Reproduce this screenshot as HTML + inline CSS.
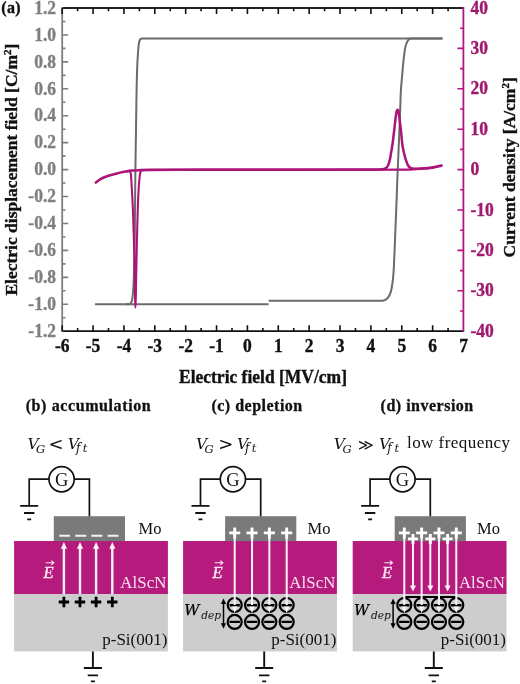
<!DOCTYPE html>
<html><head><meta charset="utf-8"><style>
html,body{margin:0;padding:0;background:#fff;}
body{width:520px;height:684px;overflow:hidden;}
svg{display:block;}
</style></head><body>
<svg width="520" height="684" viewBox="0 0 520 684" font-family='"Liberation Serif", "Times New Roman", serif'>
<rect width="520" height="684" fill="#fff"/>
<g fill="none" stroke="#6b6b6b" stroke-width="2" stroke-linejoin="round" stroke-linecap="butt">
<path d="M95,304.2 L268.6,304.2"/>
<path d="M268.60,300.80 C305.73,300.80 342.88,300.99 380.00,300.80 C381.51,300.79 383.12,300.71 384.50,300.20 C385.65,299.77 386.75,298.91 387.60,298.00 C388.52,297.01 389.28,295.76 389.80,294.50 C390.65,292.43 391.32,290.22 391.70,288.00 C392.55,283.05 393.12,278.02 393.50,273.00 C394.08,265.35 394.26,257.67 394.60,250.00 C394.89,243.33 395.13,236.67 395.40,230.00 C395.80,220.00 396.22,210.00 396.60,200.00 C396.92,191.67 397.17,183.33 397.50,175.00 C397.97,163.33 398.52,151.67 399.00,140.00 C399.42,130.00 399.82,120.00 400.20,110.00 C400.45,103.33 400.53,96.66 400.90,90.00 C401.16,85.39 401.70,80.80 402.10,76.20 C402.43,72.33 402.72,68.46 403.10,64.60 C403.48,60.73 403.88,56.85 404.40,53.00 C404.72,50.65 405.00,48.28 405.60,46.00 C406.03,44.38 406.68,42.75 407.50,41.30 C408.08,40.28 408.88,39.20 409.80,38.60 C410.38,38.23 411.27,38.47 412.00,38.40 L442.5,38.4"/>
<path d="M442.5,38.4 L141.5,38.4  C140.93,38.93 140.14,39.33 139.80,40.00 C139.24,41.13 138.98,42.51 138.80,43.80 C138.38,46.84 138.22,49.93 138.00,53.00 C137.72,56.86 137.45,60.73 137.30,64.60 C136.98,73.06 136.77,81.53 136.60,90.00 C136.33,103.33 136.20,116.67 136.00,130.00 C135.80,143.33 135.57,156.67 135.40,170.00 C135.23,183.33 135.13,196.67 135.00,210.00 C134.87,223.33 134.83,236.67 134.60,250.00 C134.46,258.34 134.20,266.67 133.90,275.00 C133.70,280.67 133.52,286.35 133.10,292.00 C132.89,294.85 132.63,297.75 132.00,300.50 C131.76,301.55 131.20,302.66 130.50,303.40 C130.04,303.89 129.19,304.08 128.50,304.20 C127.69,304.34 126.83,304.20 126.00,304.20"/>
</g>
<path d="M95.80,182.60 C97.20,181.53 98.50,180.31 100.00,179.40 C101.57,178.44 103.29,177.70 105.00,177.00 C106.63,176.33 108.32,175.81 110.00,175.30 C111.65,174.81 113.34,174.45 115.00,174.00 C116.67,173.55 118.32,173.00 120.00,172.60 C121.98,172.13 123.99,171.74 126.00,171.40 C127.99,171.07 129.99,170.79 132.00,170.60 C134.66,170.35 137.33,170.23 140.00,170.10 C143.33,169.93 146.66,169.73 150.00,169.70 C166.66,169.53 183.33,169.52 200.00,169.50 C233.33,169.46 266.67,169.52 300.00,169.50 C323.33,169.49 346.67,169.49 370.00,169.40 C374.00,169.39 378.02,169.46 382.00,169.20 C383.19,169.12 384.53,169.00 385.50,168.40 C386.53,167.76 387.43,166.61 388.00,165.50 C388.86,163.81 389.36,161.87 389.80,160.00 C390.42,157.37 390.74,154.67 391.20,152.00 C391.60,149.67 392.06,147.34 392.40,145.00 C392.79,142.34 393.07,139.67 393.40,137.00 C393.77,134.00 394.15,131.00 394.50,128.00 C394.89,124.67 395.19,121.33 395.60,118.00 C395.86,115.93 396.06,113.82 396.50,111.80 C396.66,111.09 397.03,110.01 397.40,109.80 C397.63,109.67 398.18,110.38 398.30,110.80 C398.78,112.45 398.95,114.26 399.20,116.00 C399.62,118.99 399.95,122.00 400.30,125.00 C400.65,128.00 400.98,131.00 401.30,134.00 C401.68,137.66 401.88,141.36 402.40,145.00 C402.78,147.69 403.38,150.35 404.00,153.00 C404.55,155.35 405.15,157.71 405.90,160.00 C406.51,161.87 407.08,163.86 408.10,165.50 C408.78,166.60 409.86,167.66 411.00,168.20 C412.16,168.76 413.66,168.79 415.00,168.80 C418.32,168.82 421.68,168.60 425.00,168.30 C427.68,168.06 430.34,167.63 433.00,167.20 C434.68,166.93 436.34,166.55 438.00,166.20 C439.17,165.95 440.33,165.67 441.50,165.40" fill="none" stroke="#ab1479" stroke-width="2.5" stroke-linejoin="round" stroke-linecap="round"/>
<path d="M441.50,165.90 C438.67,166.50 435.85,167.20 433.00,167.70 C430.35,168.17 427.68,168.58 425.00,168.80 C420.01,169.21 415.01,169.55 410.00,169.60 C373.34,169.95 336.67,169.93 300.00,170.00 C266.67,170.06 233.33,169.98 200.00,170.00 C183.33,170.01 166.67,170.01 150.00,170.10 C147.50,170.11 144.93,170.00 142.50,170.30 C141.93,170.37 141.33,170.76 141.00,171.20 C140.53,171.82 140.28,172.70 140.10,173.50 C139.78,174.97 139.64,176.49 139.50,178.00 C139.14,181.99 138.84,186.00 138.60,190.00 C138.30,195.00 138.08,200.00 137.90,205.00 C137.61,213.33 137.42,221.67 137.20,230.00 C136.98,238.33 136.78,246.67 136.60,255.00 C136.42,263.33 136.26,271.67 136.10,280.00 C135.99,286.00 135.95,292.00 135.80,298.00 C135.72,301.20 135.52,307.60 135.40,307.60 C135.28,307.60 135.17,301.20 135.10,298.00 C134.97,292.00 134.91,286.00 134.80,280.00 C134.64,271.67 134.50,263.33 134.30,255.00 C134.10,246.67 133.87,238.33 133.60,230.00 C133.33,221.67 133.05,213.33 132.70,205.00 C132.49,200.00 132.18,195.00 131.90,190.00 C131.68,186.00 131.47,182.00 131.20,178.00 C131.11,176.66 131.01,175.32 130.80,174.00 C130.68,173.25 130.58,172.37 130.20,171.80 C129.98,171.47 129.42,171.35 129.00,171.30 C128.35,171.22 127.67,171.37 127.00,171.40" fill="none" stroke="#ab1479" stroke-width="2.1" stroke-linejoin="round" stroke-linecap="round"/>
<g stroke-width="1.8" fill="none">
<path d="M62.2,8 L463.4,8" stroke="#222"/>
<path d="M62.2,331.2 L463.4,331.2" stroke="#111"/>
<path d="M62.2,7.1 L62.2,332" stroke="#7d7d7d"/>
<path d="M463.4,7.1 L463.4,332" stroke="#b5157f"/>
</g>
<path d="M62.20,331.2 V325.20 M62.20,8.0 V14.00 M77.64,331.2 V327.90 M77.64,8.0 V11.30 M93.07,331.2 V325.20 M93.07,8.0 V14.00 M108.50,331.2 V327.90 M108.50,8.0 V11.30 M123.94,331.2 V325.20 M123.94,8.0 V14.00 M139.38,331.2 V327.90 M139.38,8.0 V11.30 M154.81,331.2 V325.20 M154.81,8.0 V14.00 M170.25,331.2 V327.90 M170.25,8.0 V11.30 M185.68,331.2 V325.20 M185.68,8.0 V14.00 M201.12,331.2 V327.90 M201.12,8.0 V11.30 M216.55,331.2 V325.20 M216.55,8.0 V14.00 M231.99,331.2 V327.90 M231.99,8.0 V11.30 M247.42,331.2 V325.20 M247.42,8.0 V14.00 M262.86,331.2 V327.90 M262.86,8.0 V11.30 M278.29,331.2 V325.20 M278.29,8.0 V14.00 M293.73,331.2 V327.90 M293.73,8.0 V11.30 M309.16,331.2 V325.20 M309.16,8.0 V14.00 M324.59,331.2 V327.90 M324.59,8.0 V11.30 M340.03,331.2 V325.20 M340.03,8.0 V14.00 M355.46,331.2 V327.90 M355.46,8.0 V11.30 M370.90,331.2 V325.20 M370.90,8.0 V14.00 M386.33,331.2 V327.90 M386.33,8.0 V11.30 M401.77,331.2 V325.20 M401.77,8.0 V14.00 M417.20,331.2 V327.90 M417.20,8.0 V11.30 M432.64,331.2 V325.20 M432.64,8.0 V14.00 M448.07,331.2 V327.90 M448.07,8.0 V11.30" stroke="#111" stroke-width="1.6" fill="none"/>
<path d="M62.2,21.47 H65.50 M62.2,34.93 H68.20 M62.2,48.40 H65.50 M62.2,61.87 H68.20 M62.2,75.33 H65.50 M62.2,88.80 H68.20 M62.2,102.27 H65.50 M62.2,115.73 H68.20 M62.2,129.20 H65.50 M62.2,142.67 H68.20 M62.2,156.13 H65.50 M62.2,169.60 H68.20 M62.2,183.07 H65.50 M62.2,196.53 H68.20 M62.2,210.00 H65.50 M62.2,223.47 H68.20 M62.2,236.93 H65.50 M62.2,250.40 H68.20 M62.2,263.87 H65.50 M62.2,277.33 H68.20 M62.2,290.80 H65.50 M62.2,304.27 H68.20 M62.2,317.73 H65.50" stroke="#7d7d7d" stroke-width="1.6" fill="none"/>
<path d="M463.4,28.20 H460.10 M463.4,48.40 H457.40 M463.4,68.60 H460.10 M463.4,88.80 H457.40 M463.4,109.00 H460.10 M463.4,129.20 H457.40 M463.4,149.40 H460.10 M463.4,169.60 H457.40 M463.4,189.80 H460.10 M463.4,210.00 H457.40 M463.4,230.20 H460.10 M463.4,250.40 H457.40 M463.4,270.60 H460.10 M463.4,290.80 H457.40 M463.4,311.00 H460.10" stroke="#b5157f" stroke-width="1.6" fill="none"/>
<g font-weight="bold" font-size="17.5" fill="#111" stroke="#111" stroke-width="0.35" text-anchor="middle">
<text transform="translate(62.20,351.5) scale(1,1.075)">-6</text>
<text transform="translate(93.07,351.5) scale(1,1.075)">-5</text>
<text transform="translate(123.94,351.5) scale(1,1.075)">-4</text>
<text transform="translate(154.81,351.5) scale(1,1.075)">-3</text>
<text transform="translate(185.68,351.5) scale(1,1.075)">-2</text>
<text transform="translate(216.55,351.5) scale(1,1.075)">-1</text>
<text transform="translate(247.42,351.5) scale(1,1.075)">0</text>
<text transform="translate(278.29,351.5) scale(1,1.075)">1</text>
<text transform="translate(309.16,351.5) scale(1,1.075)">2</text>
<text transform="translate(340.03,351.5) scale(1,1.075)">3</text>
<text transform="translate(370.90,351.5) scale(1,1.075)">4</text>
<text transform="translate(401.77,351.5) scale(1,1.075)">5</text>
<text transform="translate(432.64,351.5) scale(1,1.075)">6</text>
<text transform="translate(463.51,351.5) scale(1,1.075)">7</text>
</g>
<g font-weight="bold" font-size="17.5" fill="#7f7f7f" stroke="#7f7f7f" stroke-width="0.35" text-anchor="end">
<text transform="translate(56,13.70) scale(1,1.075)">1.2</text>
<text transform="translate(56,40.63) scale(1,1.075)">1.0</text>
<text transform="translate(56,67.57) scale(1,1.075)">0.8</text>
<text transform="translate(56,94.50) scale(1,1.075)">0.6</text>
<text transform="translate(56,121.43) scale(1,1.075)">0.4</text>
<text transform="translate(56,148.37) scale(1,1.075)">0.2</text>
<text transform="translate(56,175.30) scale(1,1.075)">0.0</text>
<text transform="translate(56,202.23) scale(1,1.075)">-0.2</text>
<text transform="translate(56,229.17) scale(1,1.075)">-0.4</text>
<text transform="translate(56,256.10) scale(1,1.075)">-0.6</text>
<text transform="translate(56,283.03) scale(1,1.075)">-0.8</text>
<text transform="translate(56,309.97) scale(1,1.075)">-1.0</text>
<text transform="translate(56,336.90) scale(1,1.075)">-1.2</text>
</g>
<g font-weight="bold" font-size="17.5" fill="#a0186f" stroke="#a0186f" stroke-width="0.35" text-anchor="start">
<text transform="translate(470.5,13.60) scale(1,1.075)">40</text>
<text transform="translate(470.5,54.00) scale(1,1.075)">30</text>
<text transform="translate(470.5,94.40) scale(1,1.075)">20</text>
<text transform="translate(470.5,134.80) scale(1,1.075)">10</text>
<text transform="translate(470.5,175.20) scale(1,1.075)">0</text>
<text transform="translate(470.5,215.60) scale(1,1.075)">-10</text>
<text transform="translate(470.5,256.00) scale(1,1.075)">-20</text>
<text transform="translate(470.5,296.40) scale(1,1.075)">-30</text>
<text transform="translate(470.5,336.80) scale(1,1.075)">-40</text>
</g>
<text transform="translate(1.2,13.4)" letter-spacing="0.4" font-weight="bold" font-size="16" fill="#111" stroke="#111" stroke-width="0.35">(a)</text>
<text transform="translate(263,382.6) scale(1,1.08)" font-weight="bold" font-size="17.5" fill="#111" stroke="#111" stroke-width="0.35" text-anchor="middle">Electric field [MV/cm]</text>
<text transform="translate(16.8,169.6) rotate(-90)" font-weight="bold" font-size="17.5" fill="#111" stroke="#111" stroke-width="0.35" text-anchor="middle">Electric displacement field [C/m<tspan font-size="11" dy="-6">2</tspan><tspan dy="6">]</tspan></text>
<text transform="translate(515.3,167.3) rotate(-90)" font-weight="bold" font-size="17.5" fill="#111" stroke="#111" stroke-width="0.35" text-anchor="middle">Current density [A/cm<tspan font-size="11" dy="-6">2</tspan><tspan dy="6">]</tspan></text>
<rect x="14.1" y="541" width="153.8" height="53" fill="#b51a7d"/><rect x="14.1" y="594" width="153.8" height="57.4" fill="#cdcdcd"/><rect x="53.8" y="516.2" width="71.2" height="24.9" fill="#7a7a7a"/><circle cx="61.6" cy="479.2" r="12.6" fill="#fff" stroke="#111" stroke-width="1.7"/><text x="61.6" y="485.7" font-size="18.5" text-anchor="middle" fill="#111">G</text><path d="M49.0,479.2 H29.2 V505.9 M74.2,479.2 H89.4 V516.2" fill="none" stroke="#111" stroke-width="1.7"/><path d="M20.2,505.9 H38.2 M24.0,513 H34.4 M27.2,519.4 H31.2" stroke="#111" stroke-width="1.9"/><path d="M92.9,651.4 V668 M83.9,668 H101.9 M87.7,675.4 H98.1 M90.9,681.4 H94.9" fill="none" stroke="#111" stroke-width="1.9"/><text x="138.5" y="534" font-size="16.5" fill="#111">Mo</text><text x="120.3" y="587.8" font-size="16.8" letter-spacing="0.1" fill="#fbe3f1">AlScN</text><text x="167.4" y="644.6" font-size="17" fill="#111" text-anchor="end">p-Si(001)</text><text x="43.5" y="578.4" font-size="16.5" font-style="italic" fill="#fbe3f1" stroke="#fbe3f1" stroke-width="0.45">E</text><path d="M45.7,562.7 H53.7 M51.3,560.6 L53.9,562.7 L51.3,564.8" fill="none" stroke="#fbe3f1" stroke-width="1.1"/><rect x="62.70" y="547" width="2.4" height="47" fill="#fdf2f9"/><path d="M63.90,542 L67.00,548.8 L60.80,548.8 Z" fill="#fdf2f9"/><rect x="78.80" y="547" width="2.4" height="47" fill="#fdf2f9"/><path d="M80.00,542 L83.10,548.8 L76.90,548.8 Z" fill="#fdf2f9"/><rect x="94.90" y="547" width="2.4" height="47" fill="#fdf2f9"/><path d="M96.10,542 L99.20,548.8 L93.00,548.8 Z" fill="#fdf2f9"/><rect x="111.10" y="547" width="2.4" height="47" fill="#fdf2f9"/><path d="M112.30,542 L115.40,548.8 L109.20,548.8 Z" fill="#fdf2f9"/><path d="M58.70,602.00 H69.10 M63.90,596.80 V607.20 M74.80,602.00 H85.20 M80.00,596.80 V607.20 M90.90,602.00 H101.30 M96.10,596.80 V607.20 M107.10,602.00 H117.50 M112.30,596.80 V607.20 " stroke="#000" stroke-width="2.8" fill="none"/><path d="M59.3,535.7 H69.9 M75.3,535.7 H86.2 M91.3,535.7 H102.3 M107.6,535.7 H118.5 " stroke="#f4f4f4" stroke-width="2.1" fill="none"/>
<rect x="183.1" y="541" width="153.8" height="53" fill="#b51a7d"/><rect x="183.1" y="594" width="153.8" height="57.4" fill="#cdcdcd"/><rect x="225.1" y="516.2" width="71.2" height="24.9" fill="#7a7a7a"/><circle cx="232.9" cy="479.2" r="12.6" fill="#fff" stroke="#111" stroke-width="1.7"/><text x="232.9" y="485.7" font-size="18.5" text-anchor="middle" fill="#111">G</text><path d="M220.3,479.2 H200.5 V505.9 M245.5,479.2 H260.7 V516.2" fill="none" stroke="#111" stroke-width="1.7"/><path d="M191.5,505.9 H209.5 M195.3,513 H205.7 M198.5,519.4 H202.5" stroke="#111" stroke-width="1.9"/><path d="M264.2,651.4 V668 M255.2,668 H273.2 M259.0,675.4 H269.4 M262.2,681.4 H266.2" fill="none" stroke="#111" stroke-width="1.9"/><text x="307.5" y="534" font-size="16.5" fill="#111">Mo</text><text x="289.3" y="587.8" font-size="16.8" letter-spacing="0.1" fill="#fbe3f1">AlScN</text><text x="336.4" y="644.6" font-size="17" fill="#111" text-anchor="end">p-Si(001)</text><text x="212.5" y="578.4" font-size="16.5" font-style="italic" fill="#fbe3f1" stroke="#fbe3f1" stroke-width="0.45">E</text><path d="M214.7,562.7 H222.7 M220.3,560.6 L222.9,562.7 L220.3,564.8" fill="none" stroke="#fbe3f1" stroke-width="1.1"/><text x="184.3" y="614.7" font-size="14.8" font-style="italic" font-family='"DejaVu Serif", serif' fill="#000" stroke="#000" stroke-width="0.25">W</text><text x="201.3" y="619.3" font-size="10.6" font-style="italic" font-family='"DejaVu Serif", serif' fill="#111">dep</text><path d="M223.5,602 V625" stroke="#000" stroke-width="1.5"/><path d="M223.5,598.5 L226.1,604 L220.9,604 Z M223.5,628.8 L226.1,623.3 L220.9,623.3 Z" fill="#000"/><g fill="#cdcdcd" stroke="#000" stroke-width="2.2"><circle cx="234.70" cy="605" r="7" /><circle cx="234.70" cy="621.9" r="7" /><circle cx="252.03" cy="605" r="7" /><circle cx="252.03" cy="621.9" r="7" /><circle cx="269.36" cy="605" r="7" /><circle cx="269.36" cy="621.9" r="7" /><circle cx="286.69" cy="605" r="7" /><circle cx="286.69" cy="621.9" r="7" /></g><path d="M229.50,605.2 H239.90 M229.50,621.9 H239.90 M246.83,605.2 H257.23 M246.83,621.9 H257.23 M264.16,605.2 H274.56 M264.16,621.9 H274.56 M281.49,605.2 H291.89 M281.49,621.9 H291.89 " stroke="#000" stroke-width="2.4"/><rect x="233.70" y="533" width="2" height="72" fill="#fdf2f9"/><path d="M232.10,606.6 L237.30,606.6 L234.70,613.2 Z" fill="#fdf2f9"/><rect x="251.03" y="533" width="2" height="72" fill="#fdf2f9"/><path d="M249.43,606.6 L254.63,606.6 L252.03,613.2 Z" fill="#fdf2f9"/><rect x="268.36" y="533" width="2" height="72" fill="#fdf2f9"/><path d="M266.76,606.6 L271.96,606.6 L269.36,613.2 Z" fill="#fdf2f9"/><rect x="285.69" y="533" width="2" height="72" fill="#fdf2f9"/><path d="M284.09,606.6 L289.29,606.6 L286.69,613.2 Z" fill="#fdf2f9"/><path d="M229.20,532.90 H240.20 M234.70,527.40 V538.40 M246.53,532.90 H257.53 M252.03,527.40 V538.40 M263.86,532.90 H274.86 M269.36,527.40 V538.40 M281.19,532.90 H292.19 M286.69,527.40 V538.40 " stroke="#fff" stroke-width="2.9" fill="none"/>
<rect x="352.7" y="541" width="153.8" height="53" fill="#b51a7d"/><rect x="352.7" y="594" width="153.8" height="57.4" fill="#cdcdcd"/><rect x="394.7" y="516.2" width="71.2" height="24.9" fill="#7a7a7a"/><circle cx="402.5" cy="479.2" r="12.6" fill="#fff" stroke="#111" stroke-width="1.7"/><text x="402.5" y="485.7" font-size="18.5" text-anchor="middle" fill="#111">G</text><path d="M389.9,479.2 H370.1 V505.9 M415.1,479.2 H430.3 V516.2" fill="none" stroke="#111" stroke-width="1.7"/><path d="M361.1,505.9 H379.1 M364.9,513 H375.3 M368.1,519.4 H372.1" stroke="#111" stroke-width="1.9"/><path d="M433.8,651.4 V668 M424.8,668 H442.8 M428.6,675.4 H439.0 M431.8,681.4 H435.8" fill="none" stroke="#111" stroke-width="1.9"/><text x="477.1" y="534" font-size="16.5" fill="#111">Mo</text><text x="458.9" y="587.8" font-size="16.8" letter-spacing="0.1" fill="#fbe3f1">AlScN</text><text x="506.0" y="644.6" font-size="17" fill="#111" text-anchor="end">p-Si(001)</text><text x="382.1" y="578.4" font-size="16.5" font-style="italic" fill="#fbe3f1" stroke="#fbe3f1" stroke-width="0.45">E</text><path d="M384.3,562.7 H392.3 M389.9,560.6 L392.5,562.7 L389.9,564.8" fill="none" stroke="#fbe3f1" stroke-width="1.1"/><text x="353.9" y="614.7" font-size="14.8" font-style="italic" font-family='"DejaVu Serif", serif' fill="#000" stroke="#000" stroke-width="0.25">W</text><text x="370.9" y="619.3" font-size="10.6" font-style="italic" font-family='"DejaVu Serif", serif' fill="#111">dep</text><path d="M393.1,602 V625" stroke="#000" stroke-width="1.5"/><path d="M393.1,598.5 L395.7,604 L390.5,604 Z M393.1,628.8 L395.7,623.3 L390.5,623.3 Z" fill="#000"/><path d="M404.3,597 H456.3" stroke="#000" stroke-width="1.8"/><g fill="#cdcdcd" stroke="#000" stroke-width="2.2"><circle cx="404.30" cy="605" r="7" /><circle cx="404.30" cy="621.9" r="7" /><circle cx="421.63" cy="605" r="7" /><circle cx="421.63" cy="621.9" r="7" /><circle cx="438.96" cy="605" r="7" /><circle cx="438.96" cy="621.9" r="7" /><circle cx="456.29" cy="605" r="7" /><circle cx="456.29" cy="621.9" r="7" /></g><path d="M399.10,605.2 H409.50 M399.10,621.9 H409.50 M416.43,605.2 H426.83 M416.43,621.9 H426.83 M433.76,605.2 H444.16 M433.76,621.9 H444.16 M451.09,605.2 H461.49 M451.09,621.9 H461.49 " stroke="#000" stroke-width="2.4"/><rect x="403.30" y="533" width="2" height="72" fill="#fdf2f9"/><path d="M401.70,606.6 L406.90,606.6 L404.30,613.2 Z" fill="#fdf2f9"/><rect x="420.63" y="533" width="2" height="72" fill="#fdf2f9"/><path d="M419.03,606.6 L424.23,606.6 L421.63,613.2 Z" fill="#fdf2f9"/><rect x="437.96" y="533" width="2" height="72" fill="#fdf2f9"/><path d="M436.36,606.6 L441.56,606.6 L438.96,613.2 Z" fill="#fdf2f9"/><rect x="455.29" y="533" width="2" height="72" fill="#fdf2f9"/><path d="M453.69,606.6 L458.89,606.6 L456.29,613.2 Z" fill="#fdf2f9"/><rect x="411.97" y="538" width="2" height="48" fill="#fdf2f9"/><path d="M409.97,585.4 L415.97,585.4 L412.97,591.6 Z" fill="#fdf2f9"/><rect x="429.30" y="538" width="2" height="48" fill="#fdf2f9"/><path d="M427.30,585.4 L433.30,585.4 L430.30,591.6 Z" fill="#fdf2f9"/><rect x="446.62" y="538" width="2" height="48" fill="#fdf2f9"/><path d="M444.62,585.4 L450.62,585.4 L447.62,591.6 Z" fill="#fdf2f9"/><path d="M398.80,532.90 H409.80 M404.30,527.40 V538.40 M416.13,532.90 H427.13 M421.63,527.40 V538.40 M433.46,532.90 H444.46 M438.96,527.40 V538.40 M450.79,532.90 H461.79 M456.29,527.40 V538.40 M407.97,538.90 H417.97 M412.97,533.90 V543.90 M425.30,538.90 H435.30 M430.30,533.90 V543.90 M442.62,538.90 H452.62 M447.62,533.90 V543.90 " stroke="#fff" stroke-width="2.9" fill="none"/>
<g font-weight="bold" font-size="16" fill="#111" stroke="#111" stroke-width="0.3" letter-spacing="0.5">
<text x="25.7" y="410.8" letter-spacing="0.6">(b) accumulation</text>
<text x="211.4" y="410.8">(c) depletion</text>
<text x="380.6" y="410.8">(d) inversion</text>
</g>
<text x="27.5" y="448.8" font-size="15.5" font-style="italic" font-family='"DejaVu Serif", serif' fill="#111">V</text><text x="35.9" y="452.6" font-size="11.5" font-style="italic" font-family='"DejaVu Serif", serif' fill="#111">G</text><text x="48.5" y="449.6" font-size="18" font-family='"DejaVu Sans", sans-serif' fill="#111">&lt;</text><text x="67.7" y="448.8" font-size="15.5" font-style="italic" font-family='"DejaVu Serif", serif' fill="#111">V</text><text x="76.0" y="452.0" font-size="12" font-style="italic" font-family='"DejaVu Serif", serif' fill="#111">f</text><text x="82.8" y="452.4" font-size="11.5" font-style="italic" font-family='"DejaVu Serif", serif' fill="#111">t</text>
<text x="195.9" y="448.8" font-size="15.5" font-style="italic" font-family='"DejaVu Serif", serif' fill="#111">V</text><text x="204.6" y="452.6" font-size="11.5" font-style="italic" font-family='"DejaVu Serif", serif' fill="#111">G</text><text x="218.3" y="449.6" font-size="18" font-family='"DejaVu Sans", sans-serif' fill="#111">&gt;</text><text x="237.1" y="448.8" font-size="15.5" font-style="italic" font-family='"DejaVu Serif", serif' fill="#111">V</text><text x="244.9" y="452.0" font-size="12" font-style="italic" font-family='"DejaVu Serif", serif' fill="#111">f</text><text x="251.8" y="452.4" font-size="11.5" font-style="italic" font-family='"DejaVu Serif", serif' fill="#111">t</text>
<text x="333.8" y="448.8" font-size="15.5" font-style="italic" font-family='"DejaVu Serif", serif' fill="#111">V</text><text x="342.5" y="452.6" font-size="11.5" font-style="italic" font-family='"DejaVu Serif", serif' fill="#111">G</text><text x="357.9" y="449.6" font-size="15" font-family='"DejaVu Sans", sans-serif' fill="#111">≫</text><text x="379.0" y="448.8" font-size="15.5" font-style="italic" font-family='"DejaVu Serif", serif' fill="#111">V</text><text x="387.3" y="452.0" font-size="12" font-style="italic" font-family='"DejaVu Serif", serif' fill="#111">f</text><text x="394.6" y="452.4" font-size="11.5" font-style="italic" font-family='"DejaVu Serif", serif' fill="#111">t</text>
<text x="407" y="448.4" font-size="17" letter-spacing="0.45" fill="#111">low frequency</text>
</svg>
</body></html>
